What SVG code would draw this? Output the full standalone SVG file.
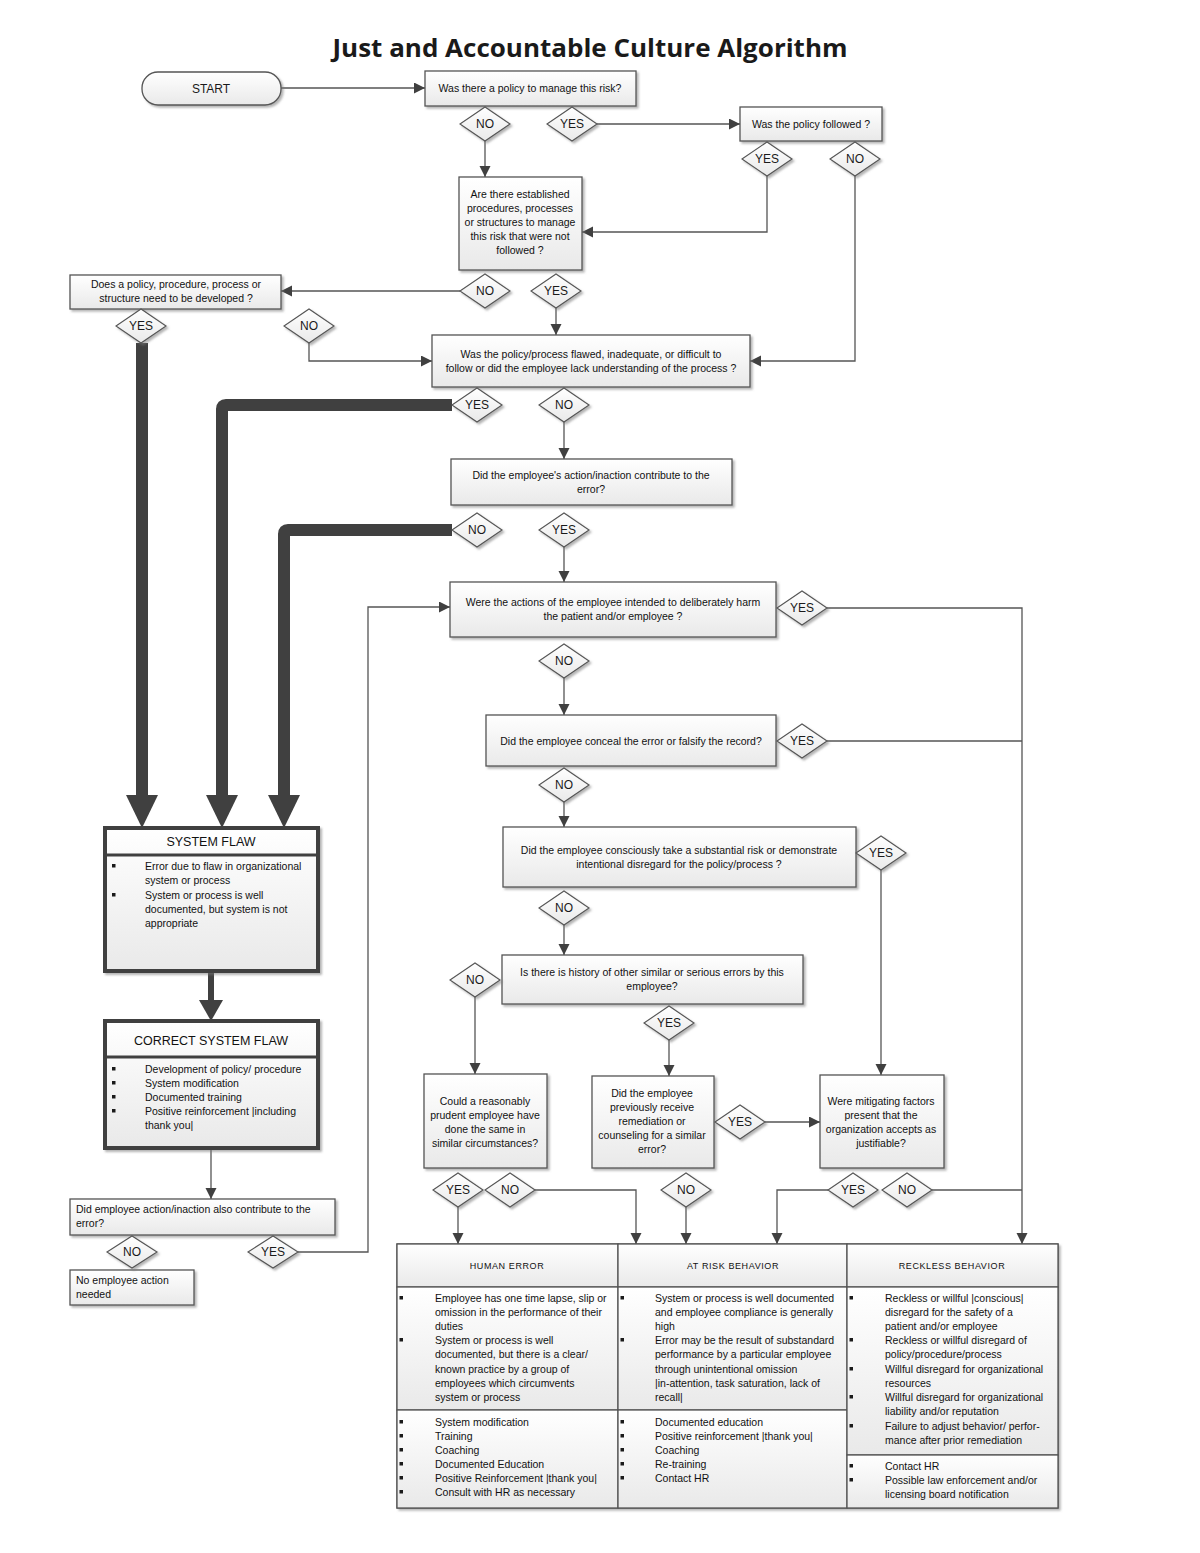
<svg xmlns="http://www.w3.org/2000/svg" width="1200" height="1553" viewBox="0 0 1200 1553">
<style>
.bx{fill:url(#g);stroke:#555;stroke-width:1.3;filter:url(#sh)}
.dm{fill:url(#g);stroke:#555;stroke-width:1.1;filter:url(#sh)}
.t{font-family:"Liberation Sans",Arial,sans-serif;font-size:10.5px;fill:#111}
.c{text-anchor:middle}
.l{font-family:"Liberation Sans",Arial,sans-serif;font-size:12px;fill:#1a1a1a;text-anchor:middle}
.h{font-family:"Liberation Sans",Arial,sans-serif;font-size:12.5px;fill:#111;text-anchor:middle}
.th{font-family:"Liberation Sans",Arial,sans-serif;font-size:9px;fill:#111;text-anchor:middle;letter-spacing:0.6px}
.cn{fill:none;stroke:#555;stroke-width:1.3}
.ar{marker-end:url(#ah)}
.tk{fill:none;stroke:#404040;stroke-width:12}
.tkh{fill:#404040}
.cell{fill:url(#g);stroke:#555;stroke-width:1.3}
.sf{fill:url(#g);stroke:#404040;stroke-width:4}
.bu{fill:#1a1a1a}
</style>
<defs>
<linearGradient id="g" x1="0" y1="0" x2="0" y2="1">
<stop offset="0" stop-color="#ffffff"/>
<stop offset="1" stop-color="#e9e9e9"/>
</linearGradient>
<filter id="sh" x="-10%" y="-10%" width="130%" height="140%">
<feDropShadow dx="2" dy="2" stdDeviation="1" flood-color="#777" flood-opacity="0.55"/>
</filter>
<marker id="ah" markerUnits="userSpaceOnUse" markerWidth="12" markerHeight="12" refX="11" refY="5.5" orient="auto">
<path d="M0,0 L11,5.5 L0,11 z" fill="#404040"/>
</marker>
</defs>
<rect width="1200" height="1553" fill="#ffffff"/>
<text x="590" y="57" font-family="'Open Sans','Liberation Sans',sans-serif" font-size="25" font-weight="bold" text-anchor="middle" fill="#1a1a1a" textLength="515" lengthAdjust="spacingAndGlyphs">Just and Accountable Culture Algorithm</text>

<g id="connectors">
<path class="cn ar" d="M281,88 H425"/>
<path class="cn ar" d="M597,124 H740"/>
<path class="cn ar" d="M485,141 V177"/>
<path class="cn ar" d="M767,176 V232 H582"/>
<path class="cn ar" d="M855,176 V361 H750"/>
<path class="cn ar" d="M460,291 H281"/>
<path class="cn ar" d="M556,308 V335"/>
<path class="cn ar" d="M309,343 V361 H432"/>
<path class="cn ar" d="M564,422 V459"/>
<path class="cn ar" d="M564,547 V582"/>
<path class="cn ar" d="M827,608 H1022 V1244"/>
<path class="cn ar" d="M564,678 V715"/>
<path class="cn" d="M827,741 H1022"/>
<path class="cn ar" d="M564,802 V827"/>
<path class="cn ar" d="M881,870 V1075"/>
<path class="cn ar" d="M564,925 V955"/>
<path class="cn ar" d="M475,997 V1074"/>
<path class="cn ar" d="M669,1040 V1076"/>
<path class="cn ar" d="M765,1122 H820"/>
<path class="cn ar" d="M458,1207 V1244"/>
<path class="cn ar" d="M535,1190 H636 V1244"/>
<path class="cn ar" d="M686,1207 V1244"/>
<path class="cn ar" d="M828,1190 H777 V1244"/>
<path class="cn" d="M932,1190 H1022"/>
<path class="cn ar" d="M211,1148 V1199"/>
<path class="cn ar" d="M298,1252 H368 V607 H450"/>
<path class="tk" d="M142,343 V797"/>
<polygon class="tkh" points="126,795 158,795 142,828"/>
<path class="tk" d="M452,405 H226 Q222,405 222,409 V797"/>
<polygon class="tkh" points="206,795 238,795 222,828"/>
<path class="tk" d="M452,530 H288 Q284,530 284,534 V797"/>
<polygon class="tkh" points="268,795 300,795 284,828"/>
<path d="M211,971 V1002" fill="none" stroke="#404040" stroke-width="6"/>
<polygon class="tkh" points="199,1000 223,1000 211,1021"/>
</g>

<g id="n-start">
<rect x="142" y="72" width="139" height="33" rx="16" ry="16" class="bx"/>
<text x="211" y="93" class="l">START</text>
</g>
<g id="n-policy">
<rect x="425" y="71" width="211" height="35" class="bx"/>
<text x="530" y="92" class="t c">Was there a policy to manage this risk?</text>
</g>
<g id="n-followed">
<rect x="740" y="107" width="142" height="34" class="bx"/>
<text x="811" y="128" class="t c">Was the policy followed ?</text>
</g>
<g id="n-established">
<rect x="459" y="177" width="123" height="93" class="bx"/>
<text class="t c"><tspan x="520" y="197.5">Are there established</tspan><tspan x="520" y="211.5">procedures, processes</tspan><tspan x="520" y="225.5">or structures to manage</tspan><tspan x="520" y="239.5">this risk that were not</tspan><tspan x="520" y="253.5">followed ?</tspan></text>
</g>
<g id="n-develop">
<rect x="70" y="275" width="211" height="34" class="bx"/>
<text class="t c"><tspan x="176" y="288">Does a policy, procedure, process or</tspan><tspan x="176" y="302">structure need to be developed ?</tspan></text>
</g>
<g id="n-flawed">
<rect x="432" y="335" width="318" height="52" class="bx"/>
<text class="t c"><tspan x="591" y="358">Was the policy/process flawed, inadequate, or difficult to</tspan><tspan x="591" y="372">follow or did the employee lack understanding of the process ?</tspan></text>
</g>
<g id="n-contribute">
<rect x="451" y="459" width="281" height="46" class="bx"/>
<text class="t c"><tspan x="591" y="479">Did the employee's action/inaction contribute to the</tspan><tspan x="591" y="493">error?</tspan></text>
</g>
<g id="n-harm">
<rect x="450" y="582" width="326" height="55" class="bx"/>
<text class="t c"><tspan x="613" y="606">Were the actions of the employee intended to deliberately harm</tspan><tspan x="613" y="620">the patient and/or employee ?</tspan></text>
</g>
<g id="n-conceal">
<rect x="486" y="715" width="290" height="51" class="bx"/>
<text x="631" y="745" class="t c">Did the employee conceal the error or falsify the record?</text>
</g>
<g id="n-risk">
<rect x="503" y="827" width="353" height="60" class="bx"/>
<text class="t c"><tspan x="679" y="854">Did the employee consciously take a substantial risk or demonstrate</tspan><tspan x="679" y="868">intentional disregard for the policy/process ?</tspan></text>
</g>
<g id="n-history">
<rect x="502" y="955" width="301" height="49" class="bx"/>
<text class="t c"><tspan x="652" y="976">Is there is history of other similar or serious errors by this</tspan><tspan x="652" y="990">employee?</tspan></text>
</g>
<g id="n-prudent">
<rect x="424" y="1074" width="123" height="94" class="bx"/>
<text class="t c"><tspan x="485" y="1105">Could a reasonably</tspan><tspan x="485" y="1119">prudent employee have</tspan><tspan x="485" y="1133">done the same in</tspan><tspan x="485" y="1147">similar circumstances?</tspan></text>
</g>
<g id="n-remediation">
<rect x="592" y="1076" width="122" height="92" class="bx"/>
<text class="t c"><tspan x="652" y="1097">Did the employee</tspan><tspan x="652" y="1111">previously receive</tspan><tspan x="652" y="1125">remediation or</tspan><tspan x="652" y="1139">counseling for a similar</tspan><tspan x="652" y="1153">error?</tspan></text>
</g>
<g id="n-mitigating">
<rect x="820" y="1075" width="124" height="93" class="bx"/>
<text class="t c"><tspan x="881" y="1105">Were mitigating factors</tspan><tspan x="881" y="1119">present that the</tspan><tspan x="881" y="1133">organization accepts as</tspan><tspan x="881" y="1147">justifiable?</tspan></text>
</g>

<g id="n-system-flaw">
<rect x="105" y="828" width="213" height="143" class="sf" filter="url(#sh)"/>
<line x1="105" y1="855" x2="318" y2="855" stroke="#404040" stroke-width="3"/>
<text x="211" y="846" class="h">SYSTEM FLAW</text>
<rect x="112" y="864" width="3.5" height="3.5" class="bu"/>
<rect x="112" y="893" width="3.5" height="3.5" class="bu"/>
<text class="t"><tspan x="145" y="870">Error due to flaw in organizational</tspan><tspan x="145" y="884">system or process</tspan><tspan x="145" y="898.5">System or process is well</tspan><tspan x="145" y="912.5">documented, but system is not</tspan><tspan x="145" y="926.5">appropriate</tspan></text>
</g>
<g id="n-correct-system-flaw">
<rect x="105" y="1021" width="213" height="127" class="sf" filter="url(#sh)"/>
<line x1="105" y1="1057" x2="318" y2="1057" stroke="#404040" stroke-width="3"/>
<text x="211" y="1044.5" class="h">CORRECT SYSTEM FLAW</text>
<rect x="112" y="1067" width="3.5" height="3.5" class="bu"/>
<rect x="112" y="1081" width="3.5" height="3.5" class="bu"/>
<rect x="112" y="1095" width="3.5" height="3.5" class="bu"/>
<rect x="112" y="1109" width="3.5" height="3.5" class="bu"/>
<text class="t"><tspan x="145" y="1073">Development of policy/ procedure</tspan><tspan x="145" y="1087">System modification</tspan><tspan x="145" y="1101">Documented training</tspan><tspan x="145" y="1115">Positive reinforcement |including</tspan><tspan x="145" y="1129">thank you|</tspan></text>
</g>
<g id="n-also-contribute">
<rect x="70" y="1199" width="265" height="36" class="bx"/>
<text class="t"><tspan x="76" y="1213">Did employee action/inaction also contribute to the</tspan><tspan x="76" y="1227">error?</tspan></text>
</g>
<g id="n-no-action">
<rect x="70" y="1270" width="124" height="35" class="bx"/>
<text class="t"><tspan x="76" y="1284">No employee action</tspan><tspan x="76" y="1298">needed</tspan></text>
</g>

<g id="decisions">
<g id="d1"><polygon class="dm" points="460,124 485,107 510,124 485,141"/><text x="485" y="128" class="l">NO</text></g>
<g id="d2"><polygon class="dm" points="547,124 572,107 597,124 572,141"/><text x="572" y="128" class="l">YES</text></g>
<g id="d3"><polygon class="dm" points="742,159 767,142 792,159 767,176"/><text x="767" y="163" class="l">YES</text></g>
<g id="d4"><polygon class="dm" points="830,159 855,142 880,159 855,176"/><text x="855" y="163" class="l">NO</text></g>
<g id="d5"><polygon class="dm" points="460,291 485,274 510,291 485,308"/><text x="485" y="295" class="l">NO</text></g>
<g id="d6"><polygon class="dm" points="531,291 556,274 581,291 556,308"/><text x="556" y="295" class="l">YES</text></g>
<g id="d7"><polygon class="dm" points="116,326 141,309 166,326 141,343"/><text x="141" y="330" class="l">YES</text></g>
<g id="d8"><polygon class="dm" points="284,326 309,309 334,326 309,343"/><text x="309" y="330" class="l">NO</text></g>
<g id="d9"><polygon class="dm" points="452,405 477,388 502,405 477,422"/><text x="477" y="409" class="l">YES</text></g>
<g id="d10"><polygon class="dm" points="539,405 564,388 589,405 564,422"/><text x="564" y="409" class="l">NO</text></g>
<g id="d11"><polygon class="dm" points="452,530 477,513 502,530 477,547"/><text x="477" y="534" class="l">NO</text></g>
<g id="d12"><polygon class="dm" points="539,530 564,513 589,530 564,547"/><text x="564" y="534" class="l">YES</text></g>
<g id="d13"><polygon class="dm" points="777,608 802,591 827,608 802,625"/><text x="802" y="612" class="l">YES</text></g>
<g id="d14"><polygon class="dm" points="539,661 564,644 589,661 564,678"/><text x="564" y="665" class="l">NO</text></g>
<g id="d15"><polygon class="dm" points="777,741 802,724 827,741 802,758"/><text x="802" y="745" class="l">YES</text></g>
<g id="d16"><polygon class="dm" points="539,785 564,768 589,785 564,802"/><text x="564" y="789" class="l">NO</text></g>
<g id="d17"><polygon class="dm" points="856,853 881,836 906,853 881,870"/><text x="881" y="857" class="l">YES</text></g>
<g id="d18"><polygon class="dm" points="539,908 564,891 589,908 564,925"/><text x="564" y="912" class="l">NO</text></g>
<g id="d19"><polygon class="dm" points="450,980 475,963 500,980 475,997"/><text x="475" y="984" class="l">NO</text></g>
<g id="d20"><polygon class="dm" points="644,1023 669,1006 694,1023 669,1040"/><text x="669" y="1027" class="l">YES</text></g>
<g id="d21"><polygon class="dm" points="715,1122 740,1105 765,1122 740,1139"/><text x="740" y="1126" class="l">YES</text></g>
<g id="d22"><polygon class="dm" points="433,1190 458,1173 483,1190 458,1207"/><text x="458" y="1194" class="l">YES</text></g>
<g id="d23"><polygon class="dm" points="485,1190 510,1173 535,1190 510,1207"/><text x="510" y="1194" class="l">NO</text></g>
<g id="d24"><polygon class="dm" points="661,1190 686,1173 711,1190 686,1207"/><text x="686" y="1194" class="l">NO</text></g>
<g id="d25"><polygon class="dm" points="828,1190 853,1173 878,1190 853,1207"/><text x="853" y="1194" class="l">YES</text></g>
<g id="d26"><polygon class="dm" points="882,1190 907,1173 932,1190 907,1207"/><text x="907" y="1194" class="l">NO</text></g>
<g id="d27"><polygon class="dm" points="107,1252 132,1236 157,1252 132,1268"/><text x="132" y="1256" class="l">NO</text></g>
<g id="d28"><polygon class="dm" points="248,1252 273,1236 298,1252 273,1268"/><text x="273" y="1256" class="l">YES</text></g>
</g>

<g id="outcomes">
<rect x="397" y="1244" width="661" height="264" fill="#fff" stroke="#555" stroke-width="1.3" filter="url(#sh)"/>
<g id="n-human-error">
<rect x="397" y="1244" width="221" height="43" class="cell"/>
<rect x="397" y="1287" width="221" height="123" class="cell"/>
<rect x="397" y="1410" width="221" height="98" class="cell"/>
<text x="507" y="1269" class="th">HUMAN ERROR</text>
<rect x="399.5" y="1296" width="3.5" height="3.5" class="bu"/>
<rect x="399.5" y="1338" width="3.5" height="3.5" class="bu"/>
<text class="t"><tspan x="435" y="1301.5">Employee has one time lapse, slip or</tspan><tspan x="435" y="1315.5">omission in the performance of their</tspan><tspan x="435" y="1329.5">duties</tspan><tspan x="435" y="1343.5">System or process is well</tspan><tspan x="435" y="1358">documented, but there is a clear/</tspan><tspan x="435" y="1372.5">known practice by a group of</tspan><tspan x="435" y="1386.5">employees which circumvents</tspan><tspan x="435" y="1400.5">system or process</tspan></text>
<rect x="399.5" y="1420" width="3.5" height="3.5" class="bu"/>
<rect x="399.5" y="1434" width="3.5" height="3.5" class="bu"/>
<rect x="399.5" y="1448" width="3.5" height="3.5" class="bu"/>
<rect x="399.5" y="1462" width="3.5" height="3.5" class="bu"/>
<rect x="399.5" y="1476" width="3.5" height="3.5" class="bu"/>
<rect x="399.5" y="1490" width="3.5" height="3.5" class="bu"/>
<text class="t"><tspan x="435" y="1425.5">System modification</tspan><tspan x="435" y="1439.5">Training</tspan><tspan x="435" y="1453.5">Coaching</tspan><tspan x="435" y="1467.5">Documented Education</tspan><tspan x="435" y="1481.5">Positive Reinforcement |thank you|</tspan><tspan x="435" y="1495.5">Consult with HR as necessary</tspan></text>
</g>
<g id="n-at-risk">
<rect x="618" y="1244" width="229" height="43" class="cell"/>
<rect x="618" y="1287" width="229" height="123" class="cell"/>
<rect x="618" y="1410" width="229" height="98" class="cell"/>
<text x="733" y="1269" class="th">AT RISK BEHAVIOR</text>
<rect x="620.5" y="1296" width="3.5" height="3.5" class="bu"/>
<rect x="620.5" y="1338" width="3.5" height="3.5" class="bu"/>
<text class="t"><tspan x="655" y="1301.5">System or process is well documented</tspan><tspan x="655" y="1315.5">and employee compliance is generally</tspan><tspan x="655" y="1329.5">high</tspan><tspan x="655" y="1343.5">Error may be the result of substandard</tspan><tspan x="655" y="1358">performance by a particular employee</tspan><tspan x="655" y="1372.5">through unintentional omission</tspan><tspan x="655" y="1386.5">|in-attention, task saturation, lack of</tspan><tspan x="655" y="1400.5">recall|</tspan></text>
<rect x="620.5" y="1420" width="3.5" height="3.5" class="bu"/>
<rect x="620.5" y="1434" width="3.5" height="3.5" class="bu"/>
<rect x="620.5" y="1448" width="3.5" height="3.5" class="bu"/>
<rect x="620.5" y="1462" width="3.5" height="3.5" class="bu"/>
<rect x="620.5" y="1476" width="3.5" height="3.5" class="bu"/>
<text class="t"><tspan x="655" y="1425.5">Documented education</tspan><tspan x="655" y="1439.5">Positive reinforcement |thank you|</tspan><tspan x="655" y="1453.5">Coaching</tspan><tspan x="655" y="1467.5">Re-training</tspan><tspan x="655" y="1481.5">Contact HR</tspan></text>
</g>
<g id="n-reckless">
<rect x="847" y="1244" width="211" height="43" class="cell"/>
<rect x="847" y="1287" width="211" height="168" class="cell"/>
<rect x="847" y="1455" width="211" height="53" class="cell"/>
<text x="952" y="1269" class="th">RECKLESS BEHAVIOR</text>
<rect x="849.5" y="1296" width="3.5" height="3.5" class="bu"/>
<rect x="849.5" y="1338" width="3.5" height="3.5" class="bu"/>
<rect x="849.5" y="1367" width="3.5" height="3.5" class="bu"/>
<rect x="849.5" y="1395" width="3.5" height="3.5" class="bu"/>
<rect x="849.5" y="1424" width="3.5" height="3.5" class="bu"/>
<text class="t"><tspan x="885" y="1301.5">Reckless or willful |conscious|</tspan><tspan x="885" y="1315.5">disregard for the safety of a</tspan><tspan x="885" y="1329.5">patient and/or employee</tspan><tspan x="885" y="1343.5">Reckless or willful disregard of</tspan><tspan x="885" y="1358">policy/procedure/process</tspan><tspan x="885" y="1372.5">Willful disregard for organizational</tspan><tspan x="885" y="1386.5">resources</tspan><tspan x="885" y="1400.5">Willful disregard for organizational</tspan><tspan x="885" y="1414.5">liability and/or reputation</tspan><tspan x="885" y="1429.5">Failure to adjust behavior/ perfor-</tspan><tspan x="885" y="1443.5">mance after prior remediation</tspan></text>
<rect x="849.5" y="1464" width="3.5" height="3.5" class="bu"/>
<rect x="849.5" y="1478" width="3.5" height="3.5" class="bu"/>
<text class="t"><tspan x="885" y="1469.5">Contact HR</tspan><tspan x="885" y="1483.5">Possible law enforcement and/or</tspan><tspan x="885" y="1497.5">licensing board notification</tspan></text>
</g>
</g>
</svg>
